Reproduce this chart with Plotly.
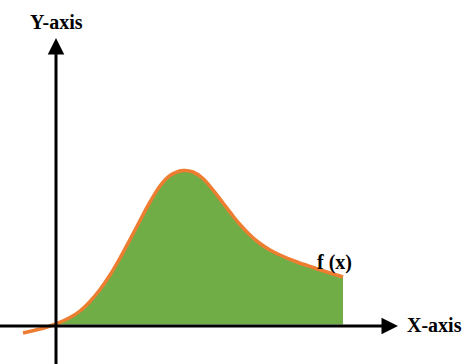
import plotly.graph_objects as go

# Curve f(x) (origin at the axes crossing)
curve_x = [-33, -16, 0, 14, 24, 34, 44, 54, 64, 74, 84, 94, 104, 114, 127, 137, 147, 157, 167, 177, 184, 194, 204, 214, 224, 241, 257, 274, 287]
curve_y = [-7, -3, 2, 8.5, 15, 24.5, 36.5, 51, 68, 86.5, 105.5, 124, 140, 150.5, 155.5, 154, 147.5, 136, 123, 110, 101.5, 91, 82.5, 76, 71, 64, 58.5, 53, 49]

# Shaded area under f(x)
area_start = 0
area_end = 287
area_base = 1.5

axis_x_min, axis_x_tip = -60, 342
axis_y_min, axis_y_tip = -45, 288

labels = {"y": "Y-axis", "x": "X-axis", "f": "f (x)"}

fill_x = [x for x in curve_x if area_start <= x <= area_end]
fill_y = [y for x, y in zip(curve_x, curve_y) if area_start <= x <= area_end]

GREEN = "#70AD47"
ORANGE = "#ED7D31"

fig = go.Figure()
fig.add_trace(go.Scatter(x=[area_start, area_end], y=[area_base, area_base], mode="lines",
                         line=dict(width=0, color=GREEN), hoverinfo="skip", showlegend=False))
fig.add_trace(go.Scatter(x=fill_x, y=fill_y, mode="lines",
                         line=dict(width=0, color=GREEN, shape="spline", smoothing=1),
                         fill="tonexty", fillcolor=GREEN, showlegend=False, hoverinfo="skip"))
fig.add_trace(go.Scatter(x=curve_x, y=curve_y, mode="lines",
                         line=dict(width=3.5, color=ORANGE, shape="spline", smoothing=1),
                         showlegend=False))

font = dict(family="Liberation Serif", size=20, color="black")
annotations = [
    dict(x=0, y=axis_y_tip, ax=0, ay=axis_y_min, xref="x", yref="y", axref="x", ayref="y",
         showarrow=True, arrowhead=2, arrowsize=1.1, arrowwidth=3, arrowcolor="black", text=""),
    dict(x=axis_x_tip, y=0, ax=axis_x_min, ay=0, xref="x", yref="y", axref="x", ayref="y",
         showarrow=True, arrowhead=2, arrowsize=1.1, arrowwidth=3, arrowcolor="black", text=""),
    dict(x=0, y=304, text="<b>" + labels["y"] + "</b>", showarrow=False, font=font),
    dict(x=378, y=1, text="<b>" + labels["x"] + "</b>", showarrow=False, font=font),
    dict(x=278, y=64, text="<b>" + labels["f"] + "</b>", showarrow=False, font=font),
]

fig.update_layout(
    width=474, height=364,
    margin=dict(l=0, r=0, t=0, b=0),
    paper_bgcolor="white", plot_bgcolor="white",
    xaxis=dict(range=[-56, 418], visible=False, fixedrange=True),
    yaxis=dict(range=[-38, 326], visible=False, fixedrange=True),
    annotations=annotations,
    showlegend=False,
)

fig.write_html("out.html", post_script="document.body.style.margin='0';document.body.style.overflow='hidden';",
               config={"displayModeBar": False})
